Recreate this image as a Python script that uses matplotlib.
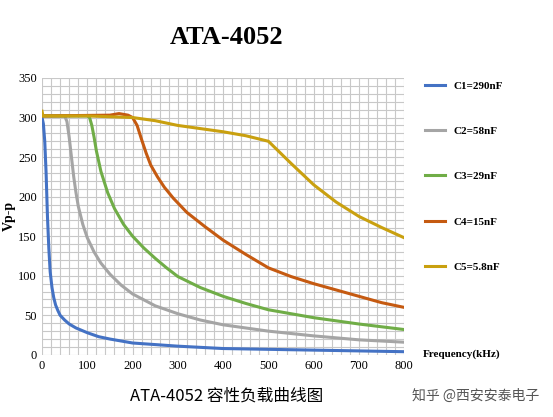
import matplotlib.pyplot as plt
from matplotlib.ticker import MultipleLocator

plt.rcParams['font.family'] = ['Noto Sans CJK SC', 'DejaVu Sans']

c1_x = [0, 3, 6, 9, 12, 15, 18, 22, 26, 30, 35, 40, 50, 60, 75, 100, 125, 150, 200, 250, 300, 400, 500, 600, 700, 800]
c1_y = [300, 292, 270, 230, 175, 135, 105, 85, 72, 63, 56, 50, 44, 39, 34, 28, 23, 20, 15, 13, 11, 8, 7, 6, 5, 4]
c2_x = [0, 50, 55, 60, 65, 70, 75, 80, 90, 100, 115, 130, 150, 175, 200, 250, 300, 350, 400, 500, 600, 700, 800]
c2_y = [302, 302, 295, 275, 250, 225, 205, 188, 165, 148, 130, 116, 102, 88, 77, 62, 52, 44, 38, 30, 24, 19, 16]
c3_x = [0, 100, 105, 110, 115, 120, 130, 145, 160, 180, 200, 225, 250, 275, 300, 350, 400, 450, 500, 600, 700, 800]
c3_y = [302, 302, 300, 290, 275, 258, 232, 205, 185, 165, 150, 135, 122, 110, 99, 85, 74, 65, 57, 47, 39, 32]
c4_x = [0, 150, 170, 190, 200, 210, 220, 230, 240, 255, 270, 290, 320, 360, 400, 450, 500, 550, 600, 650, 700, 750, 800]
c4_y = [302, 303, 305, 303, 300, 290, 272, 255, 240, 225, 212, 198, 180, 162, 145, 127, 110, 99, 90, 82, 74, 66, 60]
c5_x = [0, 2, 10, 100, 200, 250, 300, 350, 400, 450, 500, 550, 600, 650, 700, 750, 800]
c5_y = [308, 302, 302, 302, 300, 296, 290, 286, 282, 277, 270, 242, 215, 193, 175, 161, 148]

series = [
    ("C1=290nF", c1_x, c1_y, "#4472c4"),
    ("C2=58nF", c2_x, c2_y, "#a5a5a5"),
    ("C3=29nF", c3_x, c3_y, "#70ad47"),
    ("C4=15nF", c4_x, c4_y, "#c55a11"),
    ("C5=5.8nF", c5_x, c5_y, "#c9a00f"),
]

fig = plt.figure(figsize=(5.53, 4.17), dpi=100)
ax = fig.add_axes([0.076, 0.149, 0.655, 0.664])
for name, x, y, col in series:
    ax.plot(x, y, color=col, lw=2.2, label=name, solid_joinstyle='round')

ax.set_xlim(0, 800)
ax.set_ylim(0, 350)
ax.xaxis.set_major_locator(MultipleLocator(100))
ax.xaxis.set_minor_locator(MultipleLocator(20))
ax.yaxis.set_major_locator(MultipleLocator(50))
ax.yaxis.set_minor_locator(MultipleLocator(10))
ax.grid(which='both', color='#c8c8c8', lw=0.8)
ax.set_axisbelow(True)
ax.tick_params(which='both', length=0, labelsize=9)
for lbl in ax.get_xticklabels() + ax.get_yticklabels():
    lbl.set_fontfamily('Liberation Serif')
for s in ax.spines.values():
    s.set_visible(False)
ax.set_ylabel("Vp-p", fontfamily='Liberation Serif', fontweight='bold', fontsize=10, labelpad=2)

fig.text(0.41, 0.895, "ATA-4052", ha='center', fontfamily='Liberation Serif',
         fontweight='bold', fontsize=19)
fig.text(0.765, 0.145, "Frequency(kHz)", fontfamily='Liberation Serif',
         fontweight='bold', fontsize=8)
fig.text(0.41, 0.04, "ATA-4052 容性负载曲线图", ha='center', fontsize=12)
fig.text(0.745, 0.04, "知乎 @西安安泰电子", fontsize=10, color='#555555')

fig.legend(loc='upper left', bbox_to_anchor=(0.75, 0.83), frameon=False,
           labelspacing=3.2, handlelength=1.8, prop={'family': 'Liberation Serif', 'weight': 'bold', 'size': 8})

fig.savefig("out.png", dpi=100)
